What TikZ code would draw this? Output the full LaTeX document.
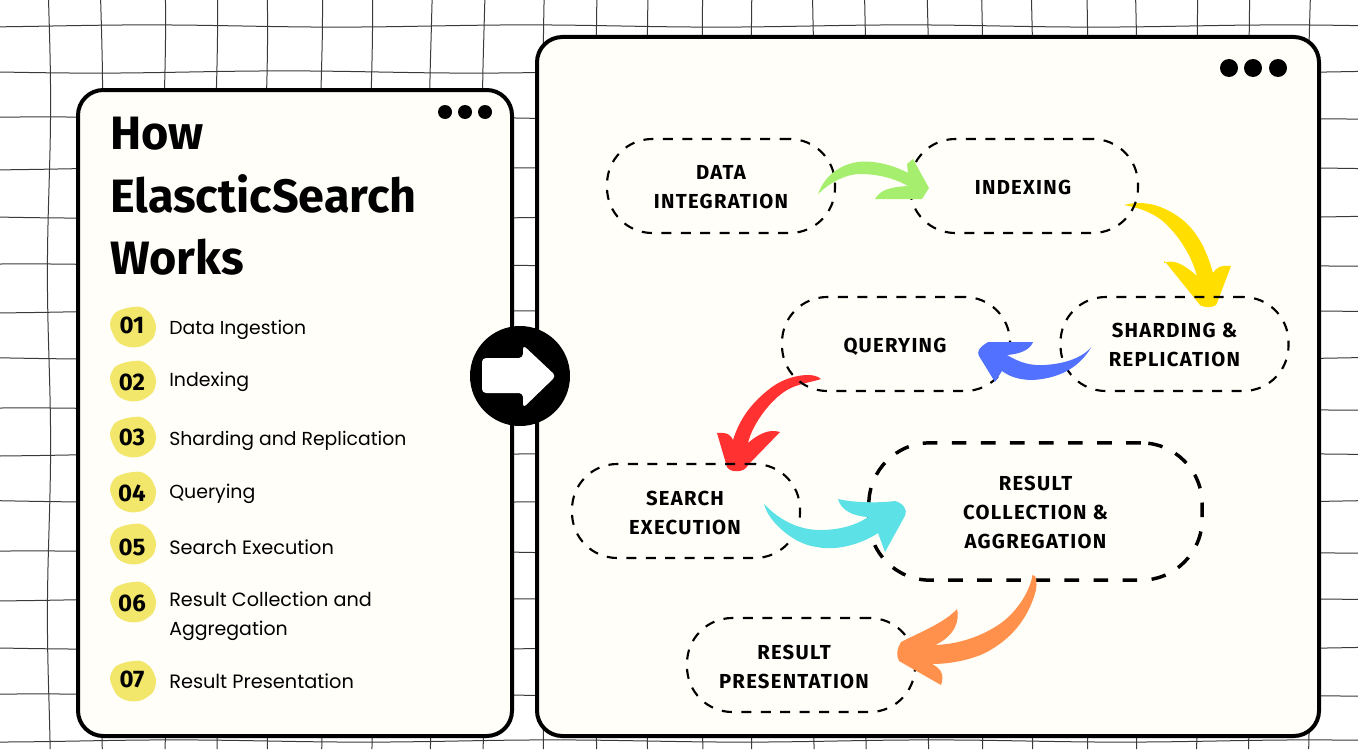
\documentclass[tikz,border=0pt]{standalone}
\usepackage{fontspec}
\usetikzlibrary{calc}
\setmainfont{Poppins}
\newfontfamily\headfont{Fira Sans}
\newfontfamily\stepfont[LetterSpace=6.2]{Fira Sans}
\definecolor{paper}{HTML}{FFFEF8}
\definecolor{gridc}{HTML}{3A3A3A}
\definecolor{blob}{HTML}{F2E66B}
\definecolor{cgreen}{HTML}{A6EE6E}
\definecolor{cyellow}{HTML}{FFDE00}
\definecolor{cblue}{HTML}{5271FF}
\definecolor{cred}{HTML}{FF3131}
\definecolor{ccyan}{HTML}{5CE1E6}
\definecolor{corange}{HTML}{FF914D}
\pgfdeclarelayer{bgl}
\pgfdeclarelayer{midl}
\pgfsetlayers{bgl,midl,main}
\tikzset{
  gridline/.style={draw=gridc,line width=0.75pt},
  panel/.style={draw=black,line width=3pt,fill=paper,rounded corners=19pt},
  dotmark/.style={circle,fill=black,inner sep=0pt},
  stepbox/.style={draw=black,line width=1.6pt,dash pattern=on 7.5pt off 7.1pt,rounded corners=34pt,
    minimum width=171pt,minimum height=70.5pt,inner sep=0pt,align=center,
    font=\stepfont\bfseries\fontsize{15.2}{21.75}\selectfont},
  bigbox/.style={stepbox,line width=2.6pt,dash pattern=on 11pt off 10.8pt,rounded corners=46pt,
    minimum width=250pt,minimum height=103pt},
  num/.style={anchor=base,font=\headfont\bfseries\fontsize{18}{18}\selectfont},
  item/.style={anchor=base west,inner sep=0pt,font=\fontsize{#1}{#1}\selectfont},
  titletext/.style={anchor=base west,inner sep=0pt,font=\headfont\bfseries\fontsize{35.1}{35.1}\selectfont},
}
\newcommand{\blobat}[1]{%
  \fill[blob,shift={(#1)}] plot[smooth cycle] coordinates {(-23,-2)(-18,-14)(-6,-19)(8,-20)(18,-13)(23,-1)(20,11)(9,19)(-4,20)(-16,14)};}
\newcommand{\lift}[1]{\rule{0pt}{#1pt}}
\begin{document}
\begin{tikzpicture}[x=0.75pt,y=-0.75pt]
\useasboundingbox (0,0) rectangle (1358,749);
\begin{pgfonlayer}{bgl}
  \fill[white] (0,0) rectangle (1358,749);
  \foreach \gx in {49,101,164,216,266,321,371,431,484,545,598,649,704,753,814,866,927,981,1031,1086,1135,1196,1248,1310}
    \draw[gridline] plot[smooth,variable=\t,domain=0:749,samples=22] ({\gx+1.6*sin(\t*1.05+\gx*7)},\t);
  \foreach \gy in {26,72,118,169,217,265,312,358,409,455,501,552,600,648,695,741}
    \draw[gridline] plot[smooth,variable=\t,domain=0:1358,samples=36] (\t,{\gy+1.1*sin(\t*0.95+\gy*5)});
  \draw[panel] (78,90) rectangle (512,736);
  \draw[panel] (537,37) rectangle (1319,736);
\end{pgfonlayer}

% title
\node[titletext] (t1) at (110,149) {How};
\node[titletext] (t2) at (110,212) {ElascticSearch};
\node[titletext] (t3) at (110,274) {Works};

% window dots
\node[dotmark,minimum size=10.5pt] (d1) at (445,112) {};
\node[dotmark,minimum size=10.5pt] (d2) at (465,112) {};
\node[dotmark,minimum size=10.5pt] (d3) at (485,112) {};
\node[dotmark,minimum size=13.5pt] (d4) at (1229,68) {};
\node[dotmark,minimum size=13.5pt] (d5) at (1253,68) {};
\node[dotmark,minimum size=13.5pt] (d6) at (1278,68) {};

% list
\blobat{133,327}\blobat{133,381}\blobat{133,437}\blobat{133,492}\blobat{133,544}\blobat{133,602}\blobat{133,681}
\node[num] (n1) at (132,333) {01};
\node[num] (n2) at (132,390.5) {02};
\node[num] (n3) at (132,445.5) {03};
\node[num] (n4) at (132,501.5) {04};
\node[num] (n5) at (132,555) {05};
\node[num] (n6) at (132,611) {06};
\node[num] (n7) at (132,687) {07};
\node[item=14.1] (l1) at (169,334) {Data Ingestion};
\node[item=14.2] (l2) at (169,386) {Indexing};
\node[item=14.1] (l3) at (169,445) {Sharding and Replication};
\node[item=14.2] (l4) at (169,498) {Querying};
\node[item=14.5] (l5) at (169,554) {Search Execution};
\node[item=14.4] (l6) at (169,606) {Result Collection and};
\node[item=14.2] (l6b) at (169,635) {Aggregation};
\node[item=14.5] (l7) at (169,688) {Result Presentation};

% centre arrow
\node[circle,fill=black,minimum size=75pt,inner sep=0pt] (hub) at (520,376) {};
\fill[white,rounded corners=3pt] ($(hub)+(-38,-18)$) -- (523,358) -- (523,345) -- (556,376) -- (523,408) -- (523,393) -- ($(hub)+(-38,17)$) -- cycle;

% steps
\node[stepbox] (s1) at (721,186) {\lift{12.6}DATA\\INTEGRATION};
\node[stepbox] (s2) at (1024,186) {\lift{12.6}INDEXING\hspace*{1.5pt}};
\node[stepbox] (s3) at (1174.5,344) {\lift{12.6}SHARDING \&\\REPLICATION};
\node[stepbox] (s4) at (896,344) {\lift{14.5}QUERYING\hspace*{1.5pt}};
\node[stepbox] (s5) at (686,511) {\lift{13.2}SEARCH\hspace*{1.5pt}\\EXECUTION\hspace*{1.5pt}};
\node[bigbox] (s6) at (1035.5,511.5) {\lift{12.6}RESULT\\COLLECTION \&\\AGGREGATION};
\node[stepbox] (s7) at (801,665) {\lift{13.2}RESULT\hspace*{10.5pt}\\PRESENTATION\hspace*{10.5pt}};

% connectors
\fill[cgreen] ($(s1.east)+(-18,8)$) .. controls (826,171) and (848,161) .. (866,161.5)
  .. controls (882,162) and (897,167) .. (908,173) -- (907,164) -- (913,159)
  -- ($(s2.west)+(20,2)$) -- (922,199) -- (875,199)
  .. controls (880,190) and (890,187) .. (908,186)
  .. controls (892,177) and (875,174) .. (860,174)
  .. controls (845,174) and (828,184) .. cycle;
\begin{pgfonlayer}{midl}
\fill[cyellow] ($(s2.east)+(-15,19)$) .. controls (1150,198) and (1172,211) .. (1184,221)
  .. controls (1200,235) and (1208,255) .. (1213,273)
  .. controls (1216,268) and (1220,265) .. (1231,266)
  -- (1217,303) .. controls (1216,308) and (1204,308) .. (1200,305)
  -- ($(s3.north)+(-10,-35)$) -- (1164,263) .. controls (1172,260) and (1180,261) .. (1197,276)
  .. controls (1192,258) and (1182,240) .. (1167,225)
  .. controls (1155,213) and (1140,208) .. cycle;
\fill[cred] ($(s4.south west)+(40,-13)$) .. controls (815,372) and (790,374) .. (772,387)
  .. controls (752,402) and (740,418) .. (733,440)
  .. controls (731,436) and (729,432) .. (717,433)
  -- (727,467) .. controls (730,473) and (745,473) .. (748,465)
  -- (780,432) .. controls (768,428) and (756,436) .. (748,443)
  .. controls (752,425) and (770,400) .. (787,390)
  .. controls (797,384) and (812,382) .. cycle;
\end{pgfonlayer}
\fill[cblue] ($(s3.west)+(32,3)$) .. controls (1080,366) and (1062,378) .. (1033,380)
  .. controls (1020,380) and (1010,377) .. (1002,371)
  -- (995,382) -- (979,356) .. controls (977,352) and (978,348) .. ($(s4.east)+(-23,-2)$)
  .. controls (1005,342) and (1020,342) .. (1033,342)
  .. controls (1030,350) and (1020,354) .. (1007,355)
  .. controls (1020,363) and (1032,366) .. (1045,365)
  .. controls (1060,364) and (1080,360) .. cycle;
\fill[ccyan] ($(s5.east)+(-37,-7)$) .. controls (768,522) and (795,545) .. (817,547)
  .. controls (835,551) and (860,545) .. (878,533)
  -- (885,552) -- ($(s6.west)+(38,4)$) .. controls (908,510) and (903,503) .. (895,501)
  .. controls (880,503) and (855,503) .. (838,499)
  .. controls (841,510) and (852,516) .. (868,517)
  .. controls (855,526) and (838,530) .. (820,530)
  .. controls (800,530) and (780,521) .. cycle;
\fill[corange] ($(s6.south)+(-3,-7)$) .. controls (1037,575) and (1037,583) .. (1036,590)
  .. controls (1028,620) and (1010,640) .. (985,653)
  .. controls (970,660) and (950,664) .. (932,664)
  .. controls (940,668) and (945,674) .. (941,685)
  -- (899,661) .. controls (896,655) and (897,648) .. ($(s7.east)+(-15,-23)$)
  .. controls (925,630) and (945,622) .. (957,609)
  .. controls (960,620) and (955,636) .. (935,645)
  .. controls (965,644) and (990,632) .. (1005,620)
  .. controls (1020,607) and (1030,590) .. cycle;
\end{tikzpicture}
\end{document}
